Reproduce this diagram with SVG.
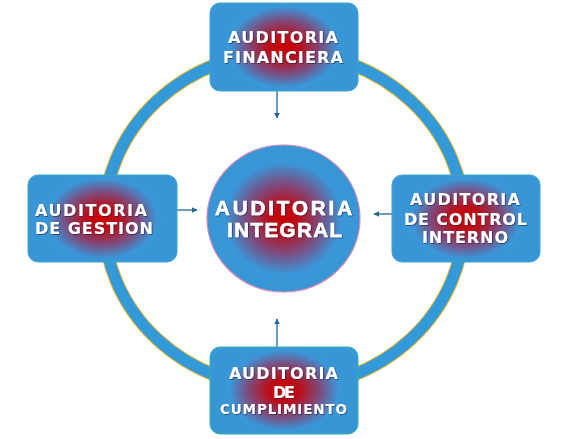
<svg xmlns="http://www.w3.org/2000/svg" width="562" height="439" viewBox="0 0 562 439">
  <defs>
    <radialGradient id="g" cx="0.5" cy="0.5" r="0.5" gradientTransform="translate(0.5,0.5) scale(0.8,1) translate(-0.5,-0.5)">
      <stop offset="0" stop-color="#cc0000"/>
      <stop offset="0.28" stop-color="#b8101c"/>
      <stop offset="0.6" stop-color="#7e4a7c"/>
      <stop offset="0.92" stop-color="#3a96d8"/>
      <stop offset="1" stop-color="#3896d6"/>
    </radialGradient>
    <radialGradient id="gc" cx="0.5" cy="0.5" r="0.5">
      <stop offset="0" stop-color="#cc0000"/>
      <stop offset="0.2" stop-color="#b8101c"/>
      <stop offset="0.47" stop-color="#7e4a7c"/>
      <stop offset="0.76" stop-color="#3a96d8"/>
      <stop offset="1" stop-color="#3896d6"/>
    </radialGradient>
    <filter id="sh" x="-10%" y="-30%" width="120%" height="160%">
      <feDropShadow dx="0.8" dy="0.8" stdDeviation="0.4" flood-color="#1a1a3a" flood-opacity="0.7"/>
    </filter>
    <marker id="ah" viewBox="0 0 10 10" refX="9" refY="5" markerWidth="6" markerHeight="6" orient="auto" markerUnits="userSpaceOnUse">
      <path d="M0,0 L10,5 L0,10 z" fill="#2566a0"/>
    </marker>
    <style>
      .box { fill: url(#g); stroke: #3da6c8; stroke-width: 1; }
      .t { font-family: "DejaVu Sans", Verdana, sans-serif; font-weight: bold; font-size: 16px; fill: #ffffff; filter: url(#sh); }
      .c { font-family: "Liberation Sans", Arial, sans-serif; font-weight: bold; font-size: 20.5px; fill: #ffffff; stroke: #ffffff; stroke-width: 0.6; filter: url(#sh); }
      .conn { stroke: #2566a0; stroke-width: 1.3; fill: none; marker-end: url(#ah); }
    </style>
  </defs>

  <g id="ring">
    <ellipse cx="284" cy="220" rx="180" ry="168" fill="none" stroke="#f0b830" stroke-width="13.5"/>
    <ellipse cx="284" cy="220" rx="180" ry="168" fill="none" stroke="#3399d9" stroke-width="11.5"/>
  </g>

  <g id="connectors">
    <line class="conn" x1="277" y1="75" x2="277" y2="118"/>
    <line class="conn" x1="174" y1="210" x2="197" y2="210"/>
    <line class="conn" x1="392" y1="214" x2="374" y2="214"/>
    <line class="conn" x1="277" y1="355" x2="277" y2="319"/>
  </g>

  <g id="center">
    <ellipse cx="283.5" cy="218.5" rx="76.5" ry="73.5" fill="url(#gc)" stroke="#d88ab0" stroke-width="1.2"/>
    <text class="c" x="283.5" y="215" text-anchor="middle" textLength="137" lengthAdjust="spacing">AUDITORIA</text>
    <text class="c" x="284.5" y="237" text-anchor="middle" textLength="115" lengthAdjust="spacing">INTEGRAL</text>
  </g>

  <g id="financiera">
    <rect class="box" x="210" y="3" width="148" height="88" rx="10"/>
    <text class="t" x="283" y="43" text-anchor="middle" textLength="110" lengthAdjust="spacing">AUDITORIA</text>
    <text class="t" x="283" y="63" text-anchor="middle" textLength="120" lengthAdjust="spacing">FINANCIERA</text>
  </g>

  <g id="gestion">
    <rect class="box" x="28" y="175" width="149" height="87" rx="10"/>
    <text class="t" x="35" y="216" textLength="112" lengthAdjust="spacing">AUDITORIA</text>
    <text class="t" x="35" y="234" textLength="118" lengthAdjust="spacing">DE GESTION</text>
  </g>

  <g id="control">
    <rect class="box" x="392" y="175" width="148" height="87" rx="10"/>
    <text class="t" x="465" y="205" text-anchor="middle" textLength="110" lengthAdjust="spacing">AUDITORIA</text>
    <text class="t" x="465.5" y="225" text-anchor="middle" textLength="123" lengthAdjust="spacing">DE CONTROL</text>
    <text class="t" x="465" y="243" text-anchor="middle" textLength="86" lengthAdjust="spacing">INTERNO</text>
  </g>

  <g id="cumplimiento">
    <rect class="box" x="210" y="347" width="148" height="87" rx="10" style="stroke:#2fb5a5"/>
    <text class="t" x="283.5" y="379" text-anchor="middle" textLength="109" lengthAdjust="spacing">AUDITORIA</text>
    <text class="t" x="284" y="398" text-anchor="middle" textLength="22" lengthAdjust="spacing">DE</text>
    <text class="t" x="283.5" y="414" text-anchor="middle" textLength="127" lengthAdjust="spacing" style="font-size:13.5px">CUMPLIMIENTO</text>
  </g>
</svg>
